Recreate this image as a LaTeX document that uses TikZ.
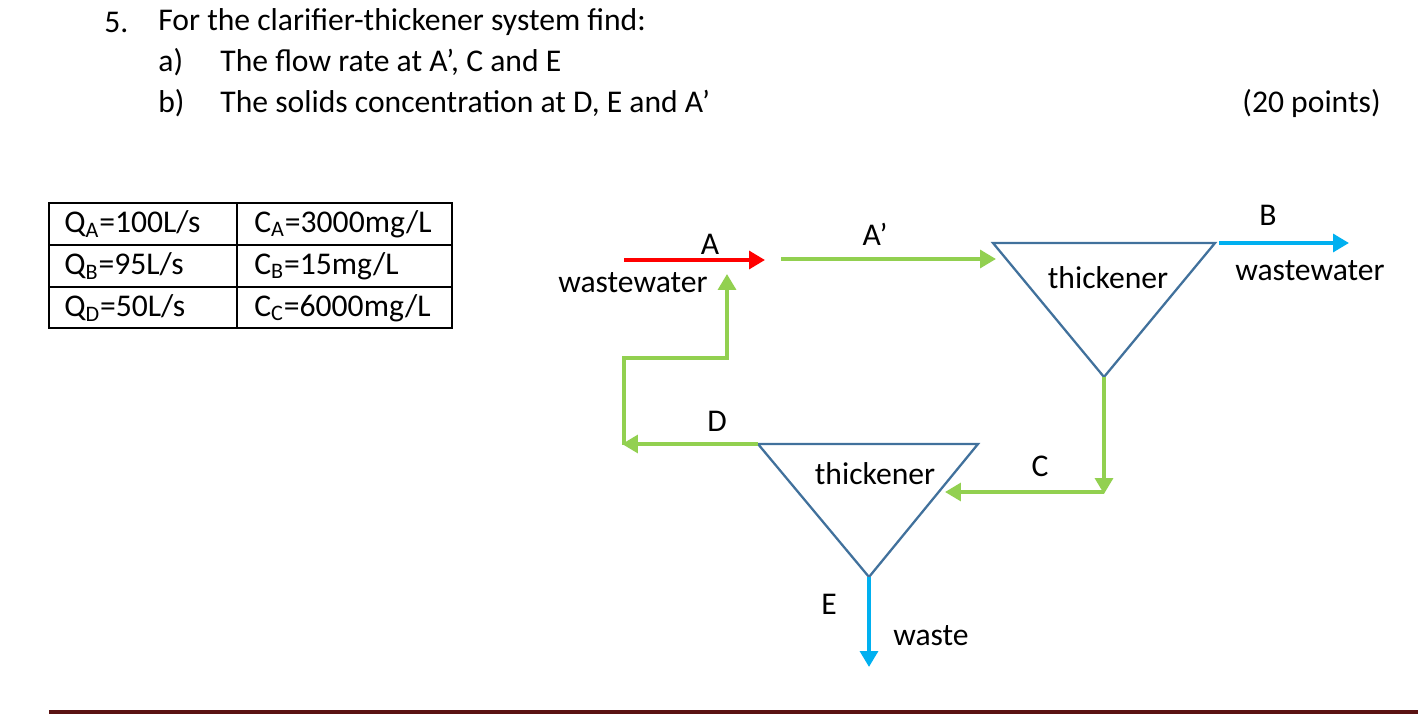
\documentclass[tikz,border=0pt]{standalone}
\usepackage{fontspec}
\setmainfont{Carlito}
\usetikzlibrary{arrows.meta}
\definecolor{gr}{HTML}{92D050}
\definecolor{bl}{HTML}{00B0F0}
\definecolor{tri}{HTML}{41719C}
\definecolor{dred}{HTML}{5A1212}
\begin{document}
\begin{tikzpicture}[x=0.02cm,y=-0.02cm,
  flow/.style={line width=2.6pt,-{Triangle[length=9pt,width=10pt]}},
  big/.style={font=\fontsize{18}{20}\selectfont,inner sep=0pt},
  lab/.style={font=\fontsize{18}{20}\selectfont,inner sep=0pt},
  tank/.style={draw=tri,line width=1.3pt}]
\useasboundingbox (0,0) rectangle (1418,716);
% heading
\node[big,anchor=west] (n5) at (104,22) {5.};
\node[big,anchor=west] (h1) at (158,22) {For the clarifier-thickener system find:};
\node[big,anchor=west] (ha) at (158,62) {a)};
\node[big,anchor=west] (h2) at (220,62) {The flow rate at A’, C and E};
\node[big,anchor=west] (hb) at (158,103) {b)};
\node[big,anchor=west] (h3) at (220,103) {The solids concentration at D, E and A’};
\node[big,anchor=east] (pts) at (1381,103) {(20 points)};
% table
\draw[line width=0.9pt] (49,203) rectangle (452,328);
\draw[line width=0.9pt] (49,245) -- (452,245) (49,287) -- (452,287) (237,203) -- (237,328);
\node[big,anchor=west] (t1) at (64,224) {Q\textsubscript{A}=100L/s};
\node[big,anchor=west] (t2) at (64,266) {Q\textsubscript{B}=95L/s};
\node[big,anchor=west] (t3) at (64,308) {Q\textsubscript{D}=50L/s};
\node[big,anchor=west] (t4) at (254,224) {C\textsubscript{A}=3000mg/L};
\node[big,anchor=west] (t5) at (254,266) {C\textsubscript{B}=15mg/L};
\node[big,anchor=west] (t6) at (254,308) {C\textsubscript{C}=6000mg/L};
% tanks
\coordinate (t1a) at (993,243); \coordinate (t1b) at (1215,243); \coordinate (t1c) at (1104,377);
\draw[tank] (t1a) -- (t1b) -- (t1c) -- cycle;
\coordinate (t2a) at (758,444); \coordinate (t2b) at (978,444); \coordinate (t2c) at (869,577);
\draw[tank] (t2a) -- (t2b) -- (t2c) -- cycle;
\node[lab] (th1) at (1108,278) {thickener};
\node[lab] (th2) at (875,474) {thickener};
% flows
\coordinate (a0) at (624,260); \coordinate (a1) at (765,260);
\draw[flow,red] (a0) -- (a1);
\node[lab] (lA) at (710,244) {A};
\node[lab,anchor=east] (lw1) at (708,283) {wastewater};
\coordinate (p0) at (781,259); \coordinate (p1) at (996,259);
\draw[flow,gr] (p0) -- (p1);
\node[lab] (lAp) at (875,234) {A’};
\coordinate (b0) at (1219,243); \coordinate (b1) at (1349,243);
\draw[flow,bl] (b0) -- (b1);
\node[lab] (lB) at (1268,215) {B};
\node[lab] (lw2) at (1310,271) {wastewater};
\coordinate (c1) at (1104,494); \coordinate (c2) at (1104,492); \coordinate (c3) at (945,492);
\draw[flow,gr] (t1c) -- (c1);
\draw[flow,gr] (c2) -- (c3);
\node[lab] (lC) at (1040,466) {C};
\coordinate (d1) at (622,444);
\draw[flow,gr] (t2a) -- (d1);
\coordinate (d2) at (624,445); \coordinate (d3) at (624,358); \coordinate (d4) at (727,358); \coordinate (d5) at (727,274);
\draw[flow,gr] (d2) -- (d3) -- (d4) -- (d5);
\node[lab] (lD) at (717,421) {D};
\coordinate (e1) at (869,667);
\draw[flow,bl] (t2c) -- (e1);
\node[lab] (lE) at (829,604) {E};
\node[lab] (lw3) at (931,636) {waste};
% bottom rule
\draw[dred,line width=2.5pt] (49,712) -- (1418,712);
\end{tikzpicture}
\end{document}
